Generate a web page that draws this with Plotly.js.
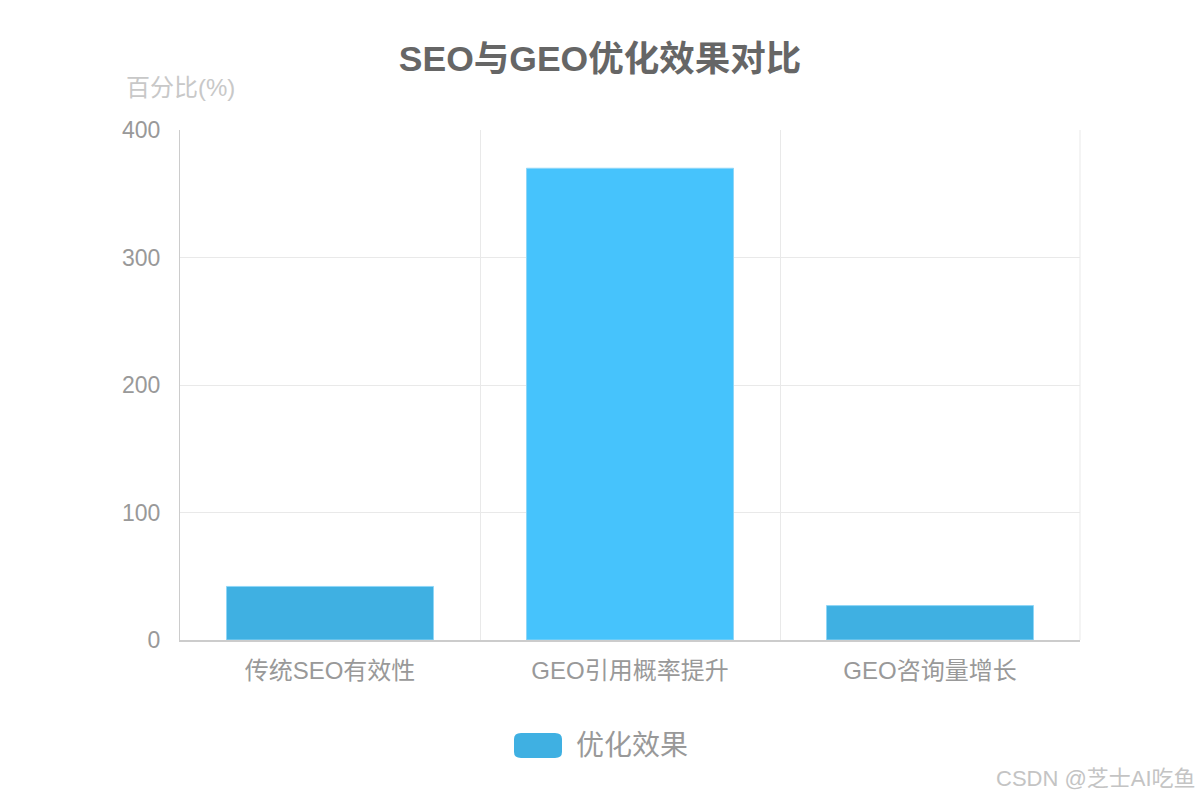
<!DOCTYPE html>
<html>
<head>
<meta charset="utf-8">
<script src="https://cdn.plot.ly/plotly-3.0.1.min.js"></script>
<style>html,body{margin:0;padding:0;background:#fff;}#chart{width:1200px;height:800px;}</style>
</head>
<body>
<div id="chart"></div>
<script>
const categories = ['传统SEO有效性', 'GEO引用概率提升', 'GEO咨询量增长'];
const values = [42, 370, 27];
const barColors = ['#3FB0E2', '#46C3FC', '#3FB0E2'];
const seriesName = '优化效果';
const yTickVals = [0, 100, 200, 300, 400];

const font = '"Liberation Sans", "Noto Sans CJK SC", sans-serif';

const trace = {
  type: 'bar',
  x: categories,
  y: values,
  name: seriesName,
  marker: {color: barColors, line: {color: '#8FD6F7', width: 1}},
  showlegend: false,
  hoverinfo: 'x+y'
};

const layout = {
  width: 1200, height: 800,
  margin: {l: 180, r: 120, t: 130, b: 160},
  paper_bgcolor: '#fff', plot_bgcolor: '#fff',
  font: {family: font, color: '#999'},
  bargap: 0.31,
  title: {text: 'SEO与GEO优化效果对比', x: 0.5, xanchor: 'center', y: 0.927, yanchor: 'middle',
          font: {family: font, size: 35.5, color: '#666', weight: 'bold'}},
  xaxis: {
    type: 'category', tickson: 'boundaries', showgrid: true, gridcolor: '#e9e9e9', gridwidth: 1,
    ticks: '', showline: true, linecolor: '#ccc', linewidth: 2,
    tickfont: {size: 24, color: '#999'}, ticklabelstandoff: 8,
    range: [-0.5, 2.5], fixedrange: true, zeroline: false
  },
  yaxis: {
    range: [0, 400], tickvals: yTickVals, showgrid: true, gridcolor: '#e9e9e9', gridwidth: 1,
    showline: true, linecolor: '#ccc', linewidth: 1, ticks: '', zeroline: false,
    tickfont: {size: 23, color: '#999'}, ticklabelstandoff: 14
  },
  shapes: [
    {type: 'line', xref: 'paper', yref: 'paper', x0: 1, x1: 1, y0: 0, y1: 1, line: {color: '#e9e9e9', width: 1}},
    {type: 'path', xref: 'paper', yref: 'paper', layer: 'above',
     path: 'M 0.37889 -0.18235 L 0.41667 -0.18235 Q 0.42444 -0.18235 0.42444 -0.19412 L 0.42444 -0.21961 Q 0.42444 -0.23137 0.41667 -0.23137 L 0.37889 -0.23137 Q 0.37111 -0.23137 0.37111 -0.21961 L 0.37111 -0.19412 Q 0.37111 -0.18235 0.37889 -0.18235 Z',
     fillcolor: '#3FB0E2', line: {width: 0}}
  ],
  annotations: [
    {text: '百分比(%)', xref: 'paper', yref: 'paper', x: 0, y: 1.084, xanchor: 'center', yanchor: 'middle',
     showarrow: false, font: {family: font, size: 24, color: '#c8c8c8'}},
    {text: seriesName, xref: 'paper', yref: 'paper', x: 0.4378, y: -0.2078, xanchor: 'left', yanchor: 'middle',
     showarrow: false, font: {family: font, size: 28, color: '#999'}},
    {text: 'CSDN @芝士AI吃鱼', xref: 'paper', yref: 'paper', x: 1.1311, y: -0.2706, xanchor: 'right', yanchor: 'middle',
     showarrow: false, font: {family: font, size: 22, color: '#c4c4c4'}}
  ]
};

Plotly.newPlot('chart', [trace], layout, {displayModeBar: false, responsive: false});
</script>
</body>
</html>
